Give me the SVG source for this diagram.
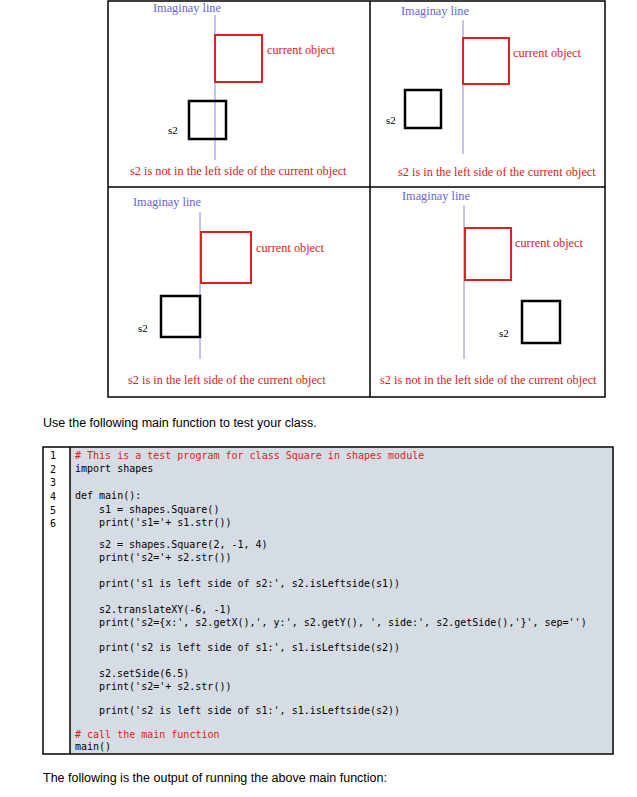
<svg xmlns="http://www.w3.org/2000/svg" width="637" height="797" viewBox="0 0 637 797">
<style>
.im{font-family:"Liberation Serif",serif;font-size:12.3px;fill:#6666dd}
.rd{font-family:"Liberation Serif",serif;font-size:12.3px;fill:#e02020}
.bk{font-family:"Liberation Serif",serif;font-size:11px;fill:#000}
.vl{stroke:#8888e0;stroke-width:1}
.rs{fill:none;stroke:#e02020;stroke-width:2}
.ks{fill:none;stroke:#000;stroke-width:2.5}
.cd{font-family:"DejaVu Sans Mono",monospace;font-size:10px;fill:#000;white-space:pre}
.cm{fill:#e02020}
.pl{font-family:"Liberation Sans",sans-serif;font-size:12.5px;fill:#000}
</style>
<rect width="637" height="797" fill="#fff"/>
<g id="panels" fill="none" stroke="#000" stroke-width="1.5">
<rect x="108" y="1" width="497" height="396"/>
<line x1="370" y1="1" x2="370" y2="397"/>
<line x1="108" y1="187" x2="605" y2="187"/>
</g>
<g id="tl">
<text class="im" x="153" y="12">Imaginay line</text>
<line class="vl" x1="215" y1="15" x2="215" y2="160"/>
<rect class="rs" x="215" y="35" width="47" height="47"/>
<rect class="ks" x="189" y="101" width="37" height="38"/>
<text class="bk" x="168" y="134">s2</text>
<text class="rd" x="267" y="54">current object</text>
<text class="rd" x="130" y="175">s2 is not in the left side of the current object</text>
</g>
<g id="tr">
<text class="im" x="401" y="15">Imaginay line</text>
<line class="vl" x1="463" y1="20" x2="463" y2="154"/>
<rect class="rs" x="463" y="38" width="46" height="46"/>
<rect class="ks" x="405" y="90" width="36" height="38"/>
<text class="bk" x="386" y="124">s2</text>
<text class="rd" x="513" y="57">current object</text>
<text class="rd" x="398" y="176">s2 is in the left side of the current object</text>
</g>
<g id="bl">
<text class="im" x="133" y="206">Imaginay line</text>
<line class="vl" x1="200" y1="212" x2="200" y2="359"/>
<rect class="rs" x="201" y="232" width="50" height="51"/>
<rect class="ks" x="161" y="296" width="39" height="41"/>
<text class="bk" x="138" y="332">s2</text>
<text class="rd" x="256" y="252">current object</text>
<text class="rd" x="128" y="384">s2 is in the left side of the current object</text>
</g>
<g id="br">
<text class="im" x="402" y="200">Imaginay line</text>
<line class="vl" x1="464" y1="205" x2="464" y2="359"/>
<rect class="rs" x="465" y="228" width="46" height="52"/>
<rect class="ks" x="522" y="301" width="38" height="42"/>
<text class="bk" x="499" y="337">s2</text>
<text class="rd" x="515" y="247">current object</text>
<text class="rd" x="380" y="384">s2 is not in the left side of the current object</text>
</g>
<text class="pl" x="43" y="427">Use the following main function to test your class.</text>
<g id="code">
<rect x="43" y="447" width="570" height="307" fill="#fff" stroke="#000" stroke-width="1.5"/>
<rect x="70" y="448" width="542" height="305" fill="#d6dce4"/>
<line x1="70" y1="447" x2="70" y2="754" stroke="#000" stroke-width="1.5"/>
<text class="cd" x="50" y="459">1</text>
<text class="cd" x="50" y="473">2</text>
<text class="cd" x="50" y="486">3</text>
<text class="cd" x="50" y="500">4</text>
<text class="cd" x="50" y="514">5</text>
<text class="cd" x="50" y="527">6</text>
<text class="cd cm" x="75" y="459"># This is a test program for class Square in shapes module</text>
<text class="cd" x="75" y="472">import shapes</text>
<text class="cd" x="75" y="499">def main():</text>
<text class="cd" x="99" y="513">s1 = shapes.Square()</text>
<text class="cd" x="99" y="526">print('s1='+ s1.str())</text>
<text class="cd" x="99" y="548">s2 = shapes.Square(2, -1, 4)</text>
<text class="cd" x="99" y="561">print('s2='+ s2.str())</text>
<text class="cd" x="99" y="587">print('s1 is left side of s2:', s2.isLeftside(s1))</text>
<text class="cd" x="99" y="613">s2.translateXY(-6, -1)</text>
<text class="cd" x="99" y="626">print('s2={x:', s2.getX(),', y:', s2.getY(), ', side:', s2.getSide(),'}', sep='')</text>
<text class="cd" x="99" y="651">print('s2 is left side of s1:', s1.isLeftside(s2))</text>
<text class="cd" x="99" y="677">s2.setSide(6.5)</text>
<text class="cd" x="99" y="690">print('s2='+ s2.str())</text>
<text class="cd" x="99" y="714">print('s2 is left side of s1:', s1.isLeftside(s2))</text>
<text class="cd cm" x="75" y="738"># call the main function</text>
<text class="cd" x="75" y="750">main()</text>
</g>
<text class="pl" x="43" y="782">The following is the output of running the above main function:</text>
</svg>
